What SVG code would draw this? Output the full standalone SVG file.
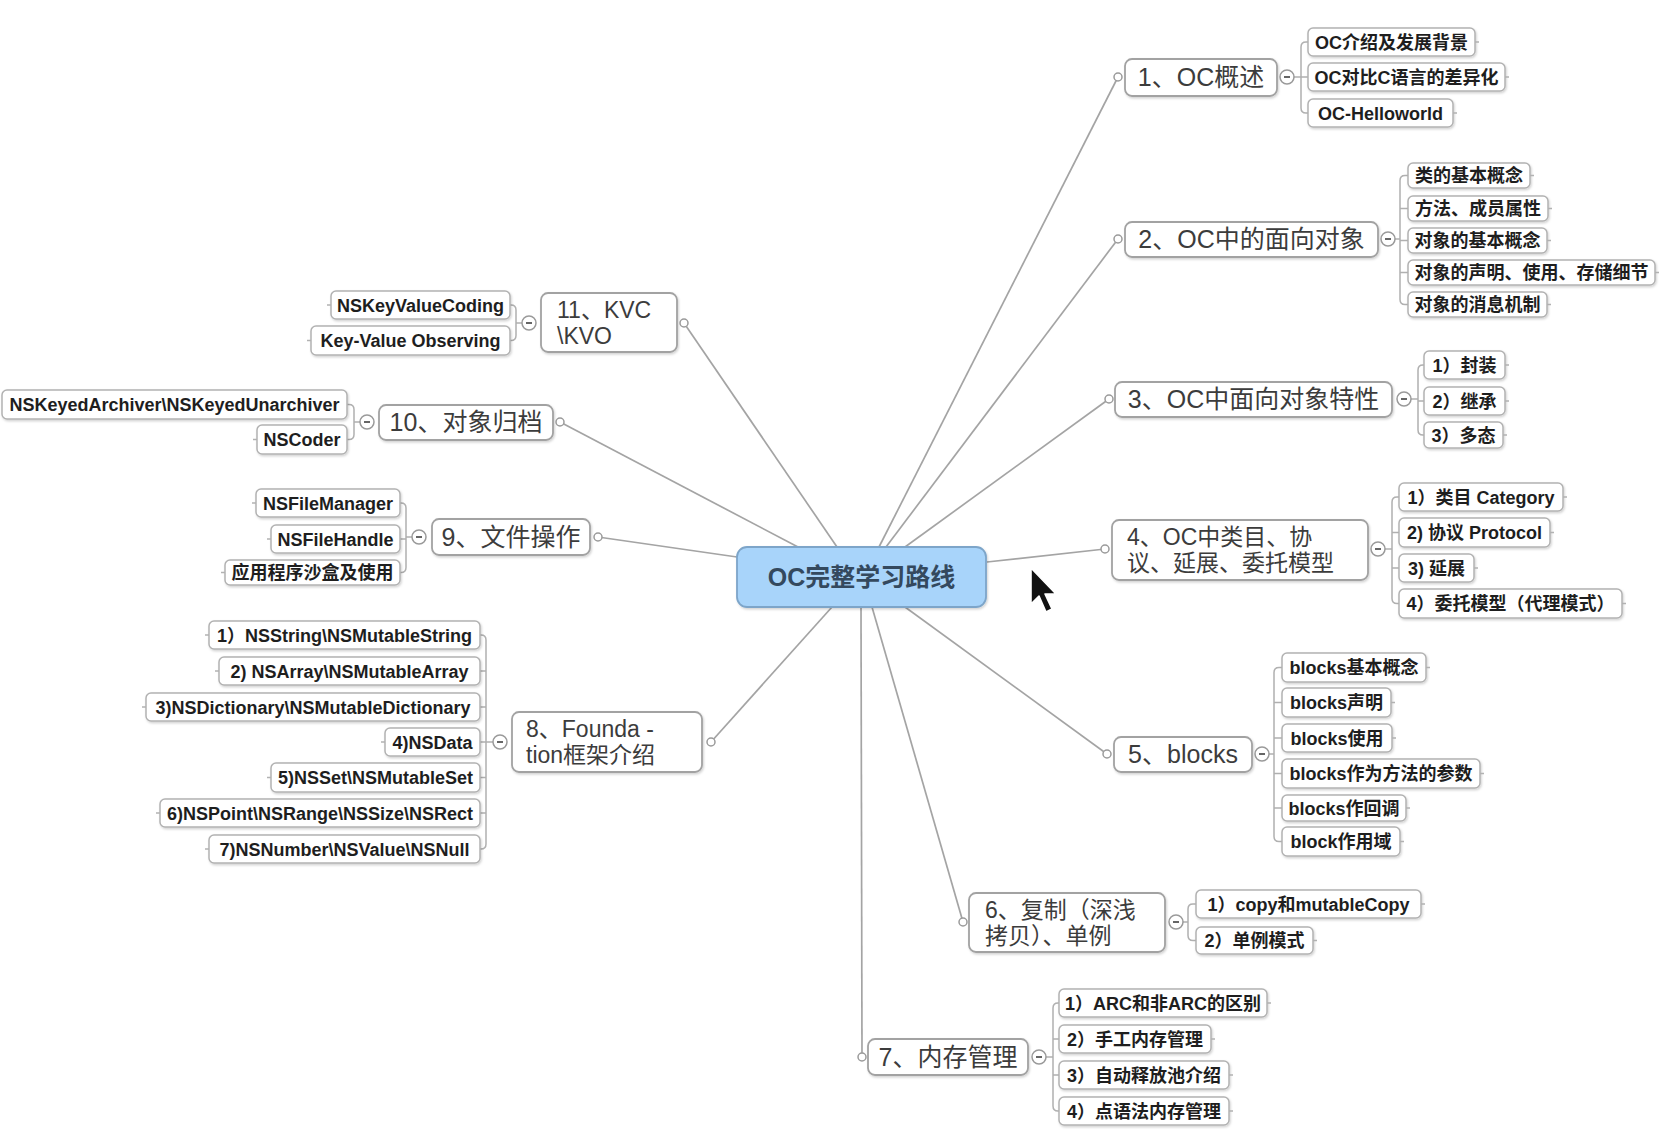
<svg xmlns="http://www.w3.org/2000/svg" width="1670" height="1134" viewBox="0 0 1670 1134">
<defs>
<filter id="sh" x="-10%" y="-20%" width="120%" height="150%">
<feDropShadow dx="1" dy="1.5" stdDeviation="1" flood-color="#000" flood-opacity="0.18"/>
</filter>
<style>
text{font-family:"Liberation Sans","Noto Sans CJK SC",sans-serif;}
.conn{stroke:#a4a4a4;stroke-width:1.7;fill:none;}
.br{stroke:#b0b0b0;stroke-width:1.5;fill:none;}
.main{fill:#fff;stroke:#a2a2a2;stroke-width:1.8;filter:url(#sh);}
.box{fill:#fff;stroke:#b2b2b2;stroke-width:1.5;filter:url(#sh);}
.dot{fill:#fff;stroke:#9a9a9a;stroke-width:1.5;}
.col{fill:#fff;stroke:#9a9a9a;stroke-width:1.5;}
.minus{stroke:#555;stroke-width:1.8;}
.stub{stroke:#b2b2b2;stroke-width:1.5;}
.mt{font-size:25px;fill:#3c3c3c;}
.mt2{font-size:23px;fill:#3c3c3c;}
.ct{font-size:18px;font-weight:bold;fill:#1e1e1e;text-anchor:middle;}
.mid{text-anchor:middle;}
</style>
</defs>
<rect x="0" y="0" width="1670" height="1134" fill="#ffffff"/>

<g id="connectors">
<line class="conn" x1="879" y1="547" x2="1118" y2="77"/>
<line class="conn" x1="886" y1="547" x2="1118" y2="239"/>
<line class="conn" x1="905" y1="547" x2="1109" y2="399"/>
<line class="conn" x1="987" y1="562" x2="1105" y2="549"/>
<line class="conn" x1="905" y1="607" x2="1107" y2="754"/>
<line class="conn" x1="872" y1="607" x2="963" y2="922"/>
<line class="conn" x1="861" y1="607" x2="862" y2="1057"/>
<line class="conn" x1="832" y1="607" x2="711" y2="742"/>
<line class="conn" x1="737" y1="557" x2="598" y2="537"/>
<line class="conn" x1="798" y1="547" x2="560" y2="422"/>
<line class="conn" x1="837" y1="547" x2="684" y2="323"/>
<path class="br" d="M1294 77 H1301 M1308 42 H1306 Q1301 42 1301 47 V108 Q1301 113 1306 113 H1308 M1301 77 H1308"/>
<path class="br" d="M1395 239 H1400 M1408 175.5 H1405 Q1400 175.5 1400 180.5 V299.5 Q1400 304.5 1405 304.5 H1408 M1400 208.5 H1408 M1400 240.5 H1408 M1400 272.5 H1408"/>
<path class="br" d="M1411 399 H1418 M1424 365 H1423 Q1418 365 1418 370 V430 Q1418 435 1423 435 H1424 M1418 401 H1424"/>
<path class="br" d="M1385 549 H1392 M1399 497 H1397 Q1392 497 1392 502 V598.5 Q1392 603.5 1397 603.5 H1399 M1392 532.5 H1399 M1392 568 H1399"/>
<path class="br" d="M1269 754 H1274 M1282 667.5 H1279 Q1274 667.5 1274 672.5 V836.5 Q1274 841.5 1279 841.5 H1282 M1274 702.5 H1282 M1274 738 H1282 M1274 773.5 H1282 M1274 808 H1282"/>
<path class="br" d="M1183 922 H1188 M1196 904 H1193 Q1188 904 1188 909 V935.5 Q1188 940.5 1193 940.5 H1196"/>
<path class="br" d="M1046 1057 H1053 M1059 1003 H1058 Q1053 1003 1053 1008 V1106 Q1053 1111 1058 1111 H1059 M1053 1039 H1059 M1053 1075 H1059"/>
<path class="br" d="M493 742 H486 M480 635 H481 Q486 635 486 640 V844 Q486 849 481 849 H480 M486 671 H480 M486 707 H480 M486 742 H480 M486 777.5 H480 M486 813 H480"/>
<path class="br" d="M412 537 H406 M400 503 H401 Q406 503 406 508 V567.5 Q406 572.5 401 572.5 H400 M406 539 H400"/>
<path class="br" d="M360 422 H354 M347 404.5 H349 Q354 404.5 354 409.5 V434.5 Q354 439.5 349 439.5 H347"/>
<path class="br" d="M522 323 H516 M510 305 H511 Q516 305 516 310 V335.5 Q516 340.5 511 340.5 H510"/>
</g>

<g id="center">
<rect x="737" y="547" width="249" height="60" rx="10" fill="#a8d4fa" stroke="#7da5c9" stroke-width="1.8" filter="url(#sh)"/>
<text x="861.5" y="586" class="mid" font-size="25" font-weight="bold" fill="#34495e">OC完整学习路线</text>
</g>

<g id="n1">
<rect class="main" x="1125" y="59" width="152" height="37" rx="7"/>
<circle class="dot" cx="1118" cy="77" r="4"/>
<circle class="col" cx="1287" cy="77" r="7"/><line class="minus" x1="1284" y1="77" x2="1290" y2="77"/>
<text class="mt mid" x="1201" y="86">1、OC概述</text>
</g>
<g id="n1c">
<rect class="box" x="1308" y="28" width="167" height="28" rx="5"/><line class="stub" x1="1475" y1="42" x2="1479" y2="42"/>
<text class="ct" x="1391.5" y="49" font-size="19">OC介绍及发展背景</text>
<rect class="box" x="1308" y="63" width="197" height="28" rx="5"/><line class="stub" x1="1505" y1="77" x2="1509" y2="77"/>
<text class="ct" x="1406.5" y="84" font-size="19">OC对比C语言的差异化</text>
<rect class="box" x="1308" y="99" width="145" height="28" rx="5"/><line class="stub" x1="1453" y1="113" x2="1457" y2="113"/>
<text class="ct" x="1380.5" y="120" font-size="19">OC-Helloworld</text>
</g>

<g id="n2">
<rect class="main" x="1125" y="222" width="253" height="35" rx="7"/>
<circle class="dot" cx="1118" cy="239" r="4"/>
<circle class="col" cx="1388" cy="239" r="7"/><line class="minus" x1="1385" y1="239" x2="1391" y2="239"/>
<text class="mt mid" x="1251.5" y="248">2、OC中的面向对象</text>
</g>
<g id="n2c">
<rect class="box" x="1408" y="163" width="122" height="25" rx="5"/><line class="stub" x1="1530" y1="175.5" x2="1534" y2="175.5"/>
<text class="ct" x="1469" y="182" font-size="17">类的基本概念</text>
<rect class="box" x="1408" y="196" width="140" height="25" rx="5"/><line class="stub" x1="1548" y1="208.5" x2="1552" y2="208.5"/>
<text class="ct" x="1478" y="215" font-size="17">方法、成员属性</text>
<rect class="box" x="1408" y="228" width="139" height="25" rx="5"/><line class="stub" x1="1547" y1="240.5" x2="1551" y2="240.5"/>
<text class="ct" x="1477.5" y="247" font-size="17">对象的基本概念</text>
<rect class="box" x="1408" y="260" width="247" height="25" rx="5"/><line class="stub" x1="1655" y1="272.5" x2="1659" y2="272.5"/>
<text class="ct" x="1531.5" y="279" font-size="17">对象的声明、使用、存储细节</text>
<rect class="box" x="1408" y="292" width="139" height="25" rx="5"/><line class="stub" x1="1547" y1="304.5" x2="1551" y2="304.5"/>
<text class="ct" x="1477.5" y="311" font-size="17">对象的消息机制</text>
</g>

<g id="n3">
<rect class="main" x="1115" y="382" width="277" height="35" rx="7"/>
<circle class="dot" cx="1109" cy="399" r="4"/>
<circle class="col" cx="1404" cy="399" r="7"/><line class="minus" x1="1401" y1="399" x2="1407" y2="399"/>
<text class="mt mid" x="1253.5" y="408">3、OC中面向对象特性</text>
</g>
<g id="n3c">
<rect class="box" x="1424" y="351" width="81" height="28" rx="5"/><line class="stub" x1="1505" y1="365" x2="1509" y2="365"/>
<text class="ct" x="1464.5" y="371.5">1）封装</text>
<rect class="box" x="1424" y="387" width="81" height="28" rx="5"/><line class="stub" x1="1505" y1="401" x2="1509" y2="401"/>
<text class="ct" x="1464.5" y="407.5">2）继承</text>
<rect class="box" x="1424" y="422" width="79" height="26" rx="5"/><line class="stub" x1="1503" y1="435" x2="1507" y2="435"/>
<text class="ct" x="1463.5" y="441.5">3）多态</text>
</g>

<g id="n4">
<rect class="main" x="1112" y="520" width="256" height="60" rx="7"/>
<circle class="dot" cx="1105" cy="549" r="4"/>
<circle class="col" cx="1378" cy="549" r="7"/><line class="minus" x1="1375" y1="549" x2="1381" y2="549"/>
<text class="mt2" x="1127" y="545">4、OC中类目、协</text>
<text class="mt2" x="1127" y="571">议、延展、委托模型</text>
</g>
<g id="n4c">
<rect class="box" x="1399" y="483" width="164" height="28" rx="5"/><line class="stub" x1="1563" y1="497" x2="1567" y2="497"/>
<text class="ct" x="1481" y="503.5">1）类目 Category</text>
<rect class="box" x="1399" y="518" width="151" height="29" rx="5"/><line class="stub" x1="1550" y1="532.5" x2="1554" y2="532.5"/>
<text class="ct" x="1474.5" y="539">2) 协议 Protocol</text>
<rect class="box" x="1399" y="554" width="75" height="28" rx="5"/><line class="stub" x1="1474" y1="568" x2="1478" y2="568"/>
<text class="ct" x="1436.5" y="574.5">3) 延展</text>
<rect class="box" x="1399" y="589" width="223" height="29" rx="5"/><line class="stub" x1="1622" y1="603.5" x2="1626" y2="603.5"/>
<text class="ct" x="1510.5" y="610">4）委托模型（代理模式）</text>
</g>

<g id="n5">
<rect class="main" x="1114" y="737" width="138" height="35" rx="7"/>
<circle class="dot" cx="1107" cy="754" r="4"/>
<circle class="col" cx="1262" cy="754" r="7"/><line class="minus" x1="1259" y1="754" x2="1265" y2="754"/>
<text class="mt mid" x="1183" y="763">5、blocks</text>
</g>
<g id="n5c">
<rect class="box" x="1282" y="653" width="144" height="29" rx="5"/><line class="stub" x1="1426" y1="667.5" x2="1430" y2="667.5"/>
<text class="ct" x="1354" y="674">blocks基本概念</text>
<rect class="box" x="1282" y="688" width="109" height="29" rx="5"/><line class="stub" x1="1391" y1="702.5" x2="1395" y2="702.5"/>
<text class="ct" x="1336.5" y="709">blocks声明</text>
<rect class="box" x="1282" y="724" width="110" height="28" rx="5"/><line class="stub" x1="1392" y1="738" x2="1396" y2="738"/>
<text class="ct" x="1337" y="744.5">blocks使用</text>
<rect class="box" x="1282" y="759" width="198" height="29" rx="5"/><line class="stub" x1="1480" y1="773.5" x2="1484" y2="773.5"/>
<text class="ct" x="1381" y="780">blocks作为方法的参数</text>
<rect class="box" x="1282" y="795" width="124" height="26" rx="5"/><line class="stub" x1="1406" y1="808" x2="1410" y2="808"/>
<text class="ct" x="1344" y="814.5" font-weight="normal">blocks作回调</text>
<rect class="box" x="1282" y="827" width="118" height="29" rx="5"/><line class="stub" x1="1400" y1="841.5" x2="1404" y2="841.5"/>
<text class="ct" x="1341" y="848">block作用域</text>
</g>

<g id="n6">
<rect class="main" x="969" y="893" width="196" height="59" rx="7"/>
<circle class="dot" cx="963" cy="922" r="4"/>
<circle class="col" cx="1176" cy="922" r="7"/><line class="minus" x1="1173" y1="922" x2="1179" y2="922"/>
<text class="mt2" x="985" y="918">6、复制（深浅</text>
<text class="mt2" x="985" y="944">拷贝）、单例</text>
</g>
<g id="n6c">
<rect class="box" x="1196" y="890" width="225" height="28" rx="5"/><line class="stub" x1="1421" y1="904" x2="1425" y2="904"/>
<text class="ct" x="1308.5" y="910.5" font-weight="normal">1）copy和mutableCopy</text>
<rect class="box" x="1196" y="927" width="117" height="27" rx="5"/><line class="stub" x1="1313" y1="940.5" x2="1317" y2="940.5"/>
<text class="ct" x="1254.5" y="947">2）单例模式</text>
</g>

<g id="n7">
<rect class="main" x="868" y="1039" width="160" height="36" rx="7"/>
<circle class="dot" cx="862" cy="1057" r="4"/>
<circle class="col" cx="1039" cy="1057" r="7"/><line class="minus" x1="1036" y1="1057" x2="1042" y2="1057"/>
<text class="mt mid" x="948" y="1066">7、内存管理</text>
</g>
<g id="n7c">
<rect class="box" x="1059" y="989" width="208" height="28" rx="5"/><line class="stub" x1="1267" y1="1003" x2="1271" y2="1003"/>
<text class="ct" x="1163" y="1009.5">1）ARC和非ARC的区别</text>
<rect class="box" x="1059" y="1025" width="152" height="28" rx="5"/><line class="stub" x1="1211" y1="1039" x2="1215" y2="1039"/>
<text class="ct" x="1135" y="1045.5">2）手工内存管理</text>
<rect class="box" x="1059" y="1061" width="170" height="28" rx="5"/><line class="stub" x1="1229" y1="1075" x2="1233" y2="1075"/>
<text class="ct" x="1144" y="1081.5">3）自动释放池介绍</text>
<rect class="box" x="1059" y="1097" width="170" height="28" rx="5"/><line class="stub" x1="1229" y1="1111" x2="1233" y2="1111"/>
<text class="ct" x="1144" y="1117.5">4）点语法内存管理</text>
</g>

<g id="n8">
<rect class="main" x="512" y="712" width="190" height="60" rx="7"/>
<circle class="dot" cx="711" cy="742" r="4"/>
<circle class="col" cx="500" cy="742" r="7"/><line class="minus" x1="497" y1="742" x2="503" y2="742"/>
<text class="mt2" x="526" y="737">8、Founda -</text>
<text class="mt2" x="526" y="763">tion框架介绍</text>
</g>
<g id="n8c">
<rect class="box" x="209" y="621" width="271" height="28" rx="5"/><line class="stub" x1="205" y1="635" x2="209" y2="635"/>
<text class="ct" x="344.5" y="641.5">1）NSString\NSMutableString</text>
<rect class="box" x="219" y="657" width="261" height="28" rx="5"/><line class="stub" x1="215" y1="671" x2="219" y2="671"/>
<text class="ct" x="349.5" y="677.5" font-weight="normal">2) NSArray\NSMutableArray</text>
<rect class="box" x="146" y="693" width="334" height="28" rx="5"/><line class="stub" x1="142" y1="707" x2="146" y2="707"/>
<text class="ct" x="313" y="713.5">3)NSDictionary\NSMutableDictionary</text>
<rect class="box" x="385" y="728" width="95" height="28" rx="5"/><line class="stub" x1="381" y1="742" x2="385" y2="742"/>
<text class="ct" x="432.5" y="748.5">4)NSData</text>
<rect class="box" x="271" y="763" width="209" height="29" rx="5"/><line class="stub" x1="267" y1="777.5" x2="271" y2="777.5"/>
<text class="ct" x="375.5" y="784">5)NSSet\NSMutableSet</text>
<rect class="box" x="160" y="799" width="320" height="28" rx="5"/><line class="stub" x1="156" y1="813" x2="160" y2="813"/>
<text class="ct" x="320" y="819.5">6)NSPoint\NSRange\NSSize\NSRect</text>
<rect class="box" x="209" y="835" width="271" height="28" rx="5"/><line class="stub" x1="205" y1="849" x2="209" y2="849"/>
<text class="ct" x="344.5" y="855.5">7)NSNumber\NSValue\NSNull</text>
</g>

<g id="n9">
<rect class="main" x="432" y="519" width="158" height="36" rx="7"/>
<circle class="dot" cx="598" cy="537" r="4"/>
<circle class="col" cx="419" cy="537" r="7"/><line class="minus" x1="416" y1="537" x2="422" y2="537"/>
<text class="mt mid" x="511" y="546">9、文件操作</text>
</g>
<g id="n9c">
<rect class="box" x="256" y="489" width="144" height="28" rx="5"/><line class="stub" x1="252" y1="503" x2="256" y2="503"/>
<text class="ct" x="328" y="509.5">NSFileManager</text>
<rect class="box" x="271" y="525" width="129" height="28" rx="5"/><line class="stub" x1="267" y1="539" x2="271" y2="539"/>
<text class="ct" x="335.5" y="545.5">NSFileHandle</text>
<rect class="box" x="225" y="560" width="175" height="25" rx="5"/><line class="stub" x1="221" y1="572.5" x2="225" y2="572.5"/>
<text class="ct" x="312.5" y="579" font-size="17" font-weight="normal">应用程序沙盒及使用</text>
</g>

<g id="n10">
<rect class="main" x="379" y="405" width="174" height="35" rx="7"/>
<circle class="dot" cx="560" cy="422" r="4"/>
<circle class="col" cx="367" cy="422" r="7"/><line class="minus" x1="364" y1="422" x2="370" y2="422"/>
<text class="mt mid" x="466" y="431">10、对象归档</text>
</g>
<g id="n10c">
<rect class="box" x="2" y="390" width="345" height="29" rx="5"/>
<text class="ct" x="174.5" y="411">NSKeyedArchiver\NSKeyedUnarchiver</text>
<rect class="box" x="257" y="425" width="90" height="29" rx="5"/><line class="stub" x1="253" y1="439.5" x2="257" y2="439.5"/>
<text class="ct" x="302" y="446">NSCoder</text>
</g>

<g id="n11">
<rect class="main" x="541" y="293" width="136" height="59" rx="7"/>
<circle class="dot" cx="684" cy="323" r="4"/>
<circle class="col" cx="529" cy="323" r="7"/><line class="minus" x1="526" y1="323" x2="532" y2="323"/>
<text class="mt2" x="557" y="318">11、KVC</text>
<text class="mt2" x="557" y="344">\KVO</text>
</g>
<g id="n11c">
<rect class="box" x="331" y="291" width="179" height="28" rx="5"/><line class="stub" x1="327" y1="305" x2="331" y2="305"/>
<text class="ct" x="420.5" y="311.5">NSKeyValueCoding</text>
<rect class="box" x="311" y="326" width="199" height="29" rx="5"/><line class="stub" x1="307" y1="340.5" x2="311" y2="340.5"/>
<text class="ct" x="410.5" y="347">Key-Value Observing</text>
</g>

<g id="cursor">
<path d="M1031 568 L1031 604 L1039 596 L1046 612 L1052 609 L1045 594 L1056 594 Z" fill="#111" stroke="#fff" stroke-width="1.6" stroke-linejoin="round"/>
</g>
</svg>
